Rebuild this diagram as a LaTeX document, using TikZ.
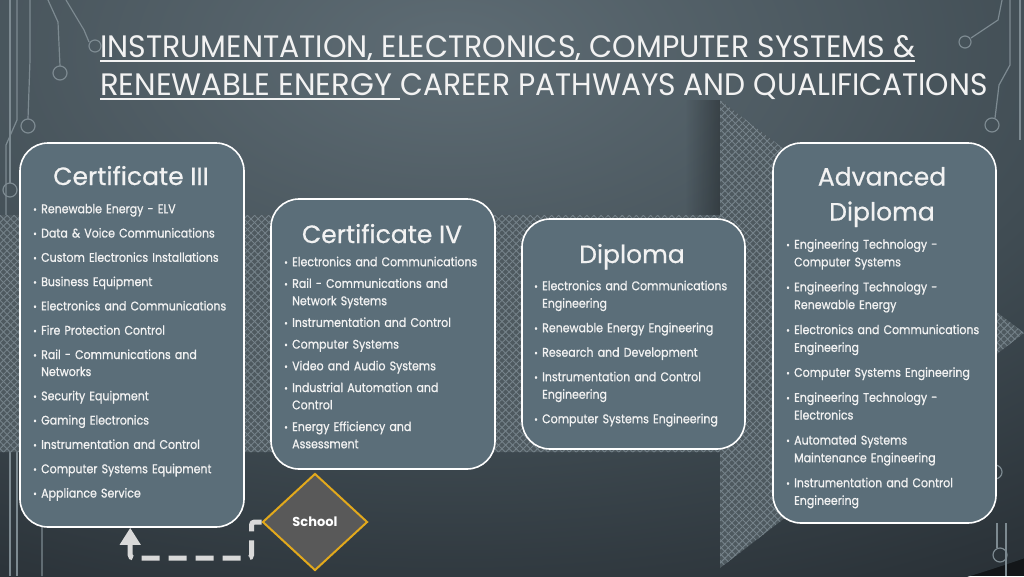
\documentclass[tikz,border=0pt]{standalone}
\usepackage{fontspec}
\setmainfont{Poppins}
\newfontfamily\titlef{Poppins}
\newfontfamily\headf{Poppins}[FakeBold=0.6]
\newfontfamily\bodyf{Poppins}[FakeStretch=0.88,FakeBold=0.9]
\usetikzlibrary{shapes.geometric,arrows.meta,patterns.meta,fadings}
\definecolor{bgA}{HTML}{5E6C74}
\definecolor{bgB}{HTML}{404C53}
\definecolor{bgC}{HTML}{2C343A}
\definecolor{bgD}{HTML}{1C2025}
\definecolor{bgE}{HTML}{131619}
\definecolor{boxfill}{HTML}{5B6E79}
\definecolor{textc}{HTML}{F2F2F2}
\definecolor{hatchbase}{HTML}{4E595F}
\definecolor{hatchline}{HTML}{75828A}
\definecolor{circc}{HTML}{7D8A91}
\definecolor{schoolfill}{HTML}{595959}
\definecolor{gold}{HTML}{E2A91C}
\definecolor{connc}{HTML}{D9D9D9}
\pgfdeclareradialshading{bgshade}{\pgfpoint{0bp}{0bp}}{color(0bp)=(bgA); color(15bp)=(bgB); color(24bp)=(bgC); color(33bp)=(bgD); color(50bp)=(bgE)}
\newcommand\blt{\raisebox{0.3pt}{\fontsize{10}{10}\selectfont\textbullet}}
\newcommand\itmf[1]{\noindent\hangindent=8pt\hangafter=1\makebox[8pt][l]{\blt}#1}
\newcommand\itm[1]{\par\itmf{#1}}
\newcommand\lsp[1]{\setlength{\parskip}{#1}}
\begin{document}
\begin{tikzpicture}[x=1pt,y=-1pt,
  box/.style={draw=white, line width=1.6pt, fill=boxfill, rounded corners=28pt, inner sep=0},
  head/.style={text=textc, inner sep=0, font=\headf\fontsize{25}{35}\selectfont},
  lst/.style={anchor=north west, inner sep=0, text width=#1, align=left, text=textc},
  ttl/.style={text=textc, inner sep=0, anchor=base west, font=\titlef\fontsize{31}{36}\selectfont},
  uline/.style={draw=textc, line width=2pt},
  circ/.style={draw=circc, line width=1.2pt},
  conn/.style={draw=connc, line width=5pt, dash pattern=on 18pt off 9pt, rounded corners=3pt},
  school/.style={diamond, draw=gold, line width=2pt, fill=schoolfill, minimum width=105pt, minimum height=97pt, inner sep=0, text=white, font=\bfseries\fontsize{13}{15}\selectfont}]
\useasboundingbox (0,0) rectangle (1024,576);
% background
\fill[bgE] (0,0) rectangle (1024,576);
\begin{scope}
\clip (0,0) rectangle (1024,576);
\shade[shading=bgshade] (450,50) ellipse [x radius=1080, y radius=600];
\end{scope}
% circuit decorations left
\draw[circ] (10,0) -- (10,183);
\draw[circ] (10,190) circle[radius=7];
\draw[circ] (17,0) -- (17,120) -- (6,145) -- (6,215);
\draw[circ] (30,0) -- (30,60) -- (28,119);
\draw[circ] (28,126) circle[radius=7];
\draw[circ] (48,0) -- (58,22) -- (60,66);
\draw[circ] (60,73) circle[radius=7];
\draw[circ] (66,0) -- (84,30) -- (89,42);
\draw[circ] (95,46) circle[radius=6];
\draw[circ] (10,452) -- (10,576);
\draw[circ] (17,452) -- (17,576);
\draw[circ] (30,470) -- (42,500) -- (42,576);
% circuit decorations right
\draw[circ] (1002,0) -- (998,20) -- (971,38);
\draw[circ] (965,42) circle[radius=6];
\draw[circ] (1010,0) -- (1010,65) -- (999,85) -- (995,118);
\draw[circ] (992,125) circle[radius=7];
\draw[circ] (1020,0) -- (1020,140);
\draw[circ] (995,472) circle[radius=7];
\draw[circ] (997,523) -- (997,548);
\draw[circ] (1000,555) circle[radius=7];
\draw[circ] (1006,523) -- (1006,576);
% big hatched arrow
\fill[black, opacity=0.3, path fading=west] (685,100) rectangle (720,215);
\fill[hatchbase] (0,215) -- (720,215) -- (720,100) -- (1024,333) -- (720,568) -- (720,452) -- (0,452) -- cycle;
\fill[pattern={Lines[angle=45,distance=5pt,line width=0.9pt]}, pattern color=hatchline] (0,215) -- (720,215) -- (720,100) -- (1024,333) -- (720,568) -- (720,452) -- (0,452) -- cycle;
\fill[pattern={Lines[angle=-45,distance=5pt,line width=0.9pt]}, pattern color=hatchline] (0,215) -- (720,215) -- (720,100) -- (1024,333) -- (720,568) -- (720,452) -- (0,452) -- cycle;
% title
\node[ttl] (t1) at (100,57) {\resizebox{815pt}{\height}{INSTRUMENTATION, ELECTRONICS, COMPUTER SYSTEMS \&}};
\node[ttl] (t2a) at (100,95) {\resizebox{300pt}{\height}{RENEWABLE ENERGY\ }};
\node[ttl] (t2b) at (t2a.base east) {\resizebox{587pt}{\height}{CAREER PATHWAYS AND QUALIFICATIONS}};
\draw[uline] ([yshift=-4pt]t1.base west) -- ([yshift=-4pt]t1.base east);
\draw[uline] ([yshift=-4pt]t2a.base west) -- ([yshift=-4pt]t2a.base east);
% boxes
\node[box, minimum width=224pt, minimum height=384pt] (c3) at (132,335) {};
\node[box, minimum width=224pt, minimum height=270pt] (c4) at (383,334) {};
\node[box, minimum width=223pt, minimum height=230pt] (dip) at (633.5,334) {};
\node[box, minimum width=223pt, minimum height=380pt] (adv) at (884.5,333) {};
% headings
\node[head, anchor=base] (c3h) at (131,185) {Certificate III};
\node[head, anchor=base] (c4h) at (382,243) {Certificate IV};
\node[head, anchor=base] (diph) at (632,263) {Diploma};
\node[head, align=center] (advh) at (882,197) {Advanced\\Diploma};
% lists
\node[lst=210pt, font=\bodyf\fontsize{12.5}{17}\selectfont] (c3l) at (33,203) {\lsp{7.3pt}%
\itmf{\rule{0pt}{10pt}Renewable Energy - ELV}
\itm{Data \& Voice Communications}
\itm{Custom Electronics Installations}
\itm{Business Equipment}
\itm{Electronics and Communications}
\itm{Fire Protection Control}
\itm{Rail - Communications and\newline Networks}
\itm{Security Equipment}
\itm{Gaming Electronics}
\itm{Instrumentation and Control}
\itm{Computer Systems Equipment}
\itm{Appliance Service}\par};
\node[lst=205pt, font=\bodyf\fontsize{12.5}{17.3}\selectfont] (c4l) at (284,256) {\lsp{4.4pt}%
\itmf{\rule{0pt}{10pt}Electronics and Communications}
\itm{Rail - Communications and\newline Network Systems}
\itm{Instrumentation and Control}
\itm{Computer Systems}
\itm{Video and Audio Systems}
\itm{Industrial Automation and\newline Control}
\itm{Energy Efficiency and\newline Assessment}\par};
\node[lst=205pt, font=\bodyf\fontsize{12.5}{17.5}\selectfont] (dipl) at (534,280) {\lsp{7pt}%
\itmf{\rule{0pt}{10pt}Electronics and Communications\newline Engineering}
\itm{Renewable Energy Engineering}
\itm{Research and Development}
\itm{Instrumentation and Control\newline Engineering}
\itm{Computer Systems Engineering}\par};
\node[lst=205pt, font=\bodyf\fontsize{12.5}{17.7}\selectfont] (advl) at (786,238.5) {\lsp{7.3pt}%
\itmf{\rule{0pt}{10pt}Engineering Technology -\newline Computer Systems}
\itm{Engineering Technology -\newline Renewable Energy}
\itm{Electronics and Communications\newline Engineering}
\itm{Computer Systems Engineering}
\itm{Engineering Technology -\newline Electronics}
\itm{Automated Systems\newline Maintenance Engineering}
\itm{Instrumentation and Control\newline Engineering}\par};
% school
\node[school] (sch) at (315,522) {School};
\draw[conn, -{Triangle[width=20pt,length=17pt]}] (sch.west) -- ++(-10,0) -- ++(0,36) -| ([xshift=111pt]c3.south west);
\end{tikzpicture}
\end{document}
